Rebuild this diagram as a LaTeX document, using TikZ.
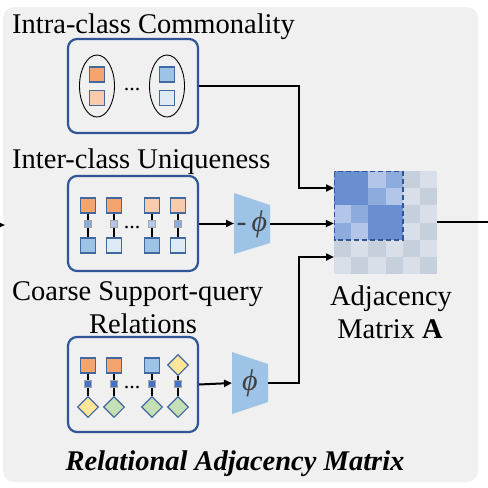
\documentclass[tikz,border=0pt]{standalone}
\usepackage{fontspec}
\setmainfont{Liberation Serif}
\newfontfamily\tnr{Liberation Serif}
\usetikzlibrary{arrows.meta,shapes.geometric}
\definecolor{bg}{HTML}{F0F0F0}
\definecolor{bord}{HTML}{2F5597}
\definecolor{sqb}{HTML}{41689F}
\definecolor{org}{HTML}{F4A46C}
\definecolor{lorg}{HTML}{F8CBAD}
\definecolor{blu}{HTML}{9DC3E6}
\definecolor{lblu}{HTML}{DEEBF7}
\definecolor{ylw}{HTML}{FFE699}
\definecolor{grn}{HTML}{C5E0B4}
\definecolor{lnk}{HTML}{8EA9DB}
\definecolor{llnk}{HTML}{B4C7E7}
\definecolor{dlnk}{HTML}{4472C4}
\definecolor{lnkb}{HTML}{A5A5A5}
\definecolor{mD}{HTML}{6A8FD0}
\definecolor{mM}{HTML}{8EABDE}
\definecolor{mL}{HTML}{B3C6EA}
\definecolor{mG}{HTML}{C6CFDC}
\definecolor{mW}{HTML}{D9DFE8}
\definecolor{trap}{HTML}{9DC3E6}
\definecolor{phic}{HTML}{404040}
\tikzset{
  txt/.style={inner sep=0pt, font=\tnr\fontsize{28.5}{32}\selectfont},
  panel/.style={draw=bord, line width=2.2pt, rounded corners=9pt, minimum width=130pt, minimum height=95pt, inner sep=0pt},
  sq/.style={draw=sqb, line width=1.1pt, minimum size=15pt, inner sep=0pt},
  dia/.style={draw=sqb, line width=1.1pt, diamond, minimum size=21pt, inner sep=0pt},
  lk/.style={draw=lnkb, line width=0.9pt, minimum size=6.5pt, inner sep=0pt},
  ell/.style={draw=black, ellipse, line width=0.9pt, minimum width=35pt, minimum height=62pt, inner sep=0pt},
  dots/.style={inner sep=0pt, font=\tnr\fontsize{22}{22}\selectfont},
  wire/.style={draw=black, line width=1.1pt},
  conn/.style={draw=black, line width=2pt},
  arr/.style={conn, -{Triangle[length=8pt,width=7pt]}},
  phitxt/.style={inner sep=0pt, text=phic, font=\tnr\itshape\fontsize{30}{30}\selectfont},
}
\begin{document}
\begin{tikzpicture}[x=1pt,y=-1pt]
\useasboundingbox (0,0) rectangle (488,488);
\clip (0,0) rectangle (488,488);
\fill[bg, rounded corners=11pt] (3,7) rectangle (478,482);

% texts
\node[txt, anchor=base west] (t1) at (12,33) {Intra-class Commonality};
\node[txt, anchor=base west] (t2) at (12,168) {Inter-class Uniqueness};
\node[txt, anchor=base west] (t3) at (12,300) {Coarse Support-query};
\node[txt, anchor=base] (t4) at (143,333) {Relations};
\node[txt, anchor=base] (t5) at (391,305) {Adjacency};
\node[txt, anchor=base] (t6) at (390,338) {Matrix \textbf{A}};
\node[txt, anchor=base] (t7) at (235,470) {\textbf{\textit{Relational Adjacency Matrix}}};

% panels
\node[panel, minimum height=94pt] (b1) at (133,86) {};
\node[panel] (b2) at (133,223.5) {};
\node[panel] (b3) at (133,384.5) {};

% panel 1
\node[ell] (e1) at (97,86) {};
\node[ell] (e2) at (167,86) {};
\node[sq, fill=org] (s11) at (97,74.5) {};
\node[sq, fill=lorg] (s12) at (97,98) {};
\node[sq, fill=blu] (s21) at (167,74.5) {};
\node[sq, fill=lblu] (s22) at (167,98) {};
\node[dots, anchor=base] (d1) at (132,90) {...};

% panel 2
\foreach \i/\x/\ct/\cl/\cb in {1/88/org/lnk/blu, 2/114/org/llnk/lblu, 3/152/lorg/llnk/blu, 4/178/lorg/lnk/lblu}{
  \node[sq, fill=\ct] (p2t\i) at (\x,205.5) {};
  \node[sq, fill=\cb] (p2b\i) at (\x,245.5) {};
  \draw[wire] (p2t\i) -- (p2b\i);
  \node[lk, fill=\cl] (p2m\i) at (\x,224) {};
}
\node[dots, anchor=base] (d2) at (132,228) {...};

% panel 3
\node[sq, fill=org] (p3t1) at (88,365.5) {};
\node[sq, fill=org] (p3t2) at (114,365.5) {};
\node[sq, fill=blu] (p3t3) at (152,365.5) {};
\node[dia, fill=ylw] (p3t4) at (178,365) {};
\node[dia, fill=ylw] (p3b1) at (88,407) {};
\node[dia, fill=grn] (p3b2) at (114,407) {};
\node[dia, fill=grn] (p3b3) at (152,407) {};
\node[dia, fill=grn] (p3b4) at (178,407) {};
\foreach \i/\x in {1/88,2/114,3/152,4/178}{
  \draw[wire] (p3t\i) -- (p3b\i);
  \node[lk, fill=dlnk] (p3m\i) at (\x,384) {};
}
\node[dots, anchor=base] (d3) at (132,388) {...};

% trapezoids
\coordinate (t1w) at (234,223.5);
\coordinate (t1e) at (270,223.5);
\coordinate (t2w) at (232,383);
\coordinate (t2e) at (268,383);
\fill[trap] (234,193) -- (270,205) -- (270,243) -- (234,254) -- cycle;
\fill[trap] (232,352) -- (268,364) -- (268,402) -- (232,414) -- cycle;
\node[phitxt] (phi1) at (252,224) {{\upshape -}\,ϕ};
\node[phitxt] (phi2) at (250,383) {ϕ};

% matrix
\node[minimum width=103pt, minimum height=103pt, inner sep=0pt] (M) at (385.5,222.5) {};
\def\cs{17.1667}
\foreach \row [count=\r from 0] in {{mD,mD,mL,mM,mG,mW},{mD,mD,mM,mL,mW,mG},{mL,mM,mD,mD,mG,mW},{mM,mL,mD,mD,mW,mG},{mG,mW,mG,mW,mG,mW},{mW,mG,mW,mG,mW,mG}}{
  \foreach \c [count=\k from 0] in \row {
    \fill[\c] (334+\k*\cs,171+\r*\cs) rectangle (334+\k*\cs+\cs,171+\r*\cs+\cs);
  }
}
\draw[bord, dashed, line width=1.8pt, dash pattern=on 5pt off 3pt] (334.5,171.5) rectangle (402.7,239.7);
\coordinate (Min1) at (334,188);
\coordinate (Min3) at (334,257);
\coordinate (out) at (488,222);
\coordinate (inL) at (-8,225);
\coordinate (inLtip) at (5,225);

% connectors
\draw[arr] (inL) -- (inLtip);
\draw[arr] (b1.east) -- ++(100,0) |- (Min1);
\draw[arr] (b2.east) -- (t1w);
\draw[arr] (t1e) -- (M.west |- t1e);
\draw[arr] (b3.east) -- (t2w);
\draw[arr] (t2e) -- ++(31,0) |- (Min3);
\draw[conn] (M.east |- out) -- (out);
\end{tikzpicture}
\end{document}
